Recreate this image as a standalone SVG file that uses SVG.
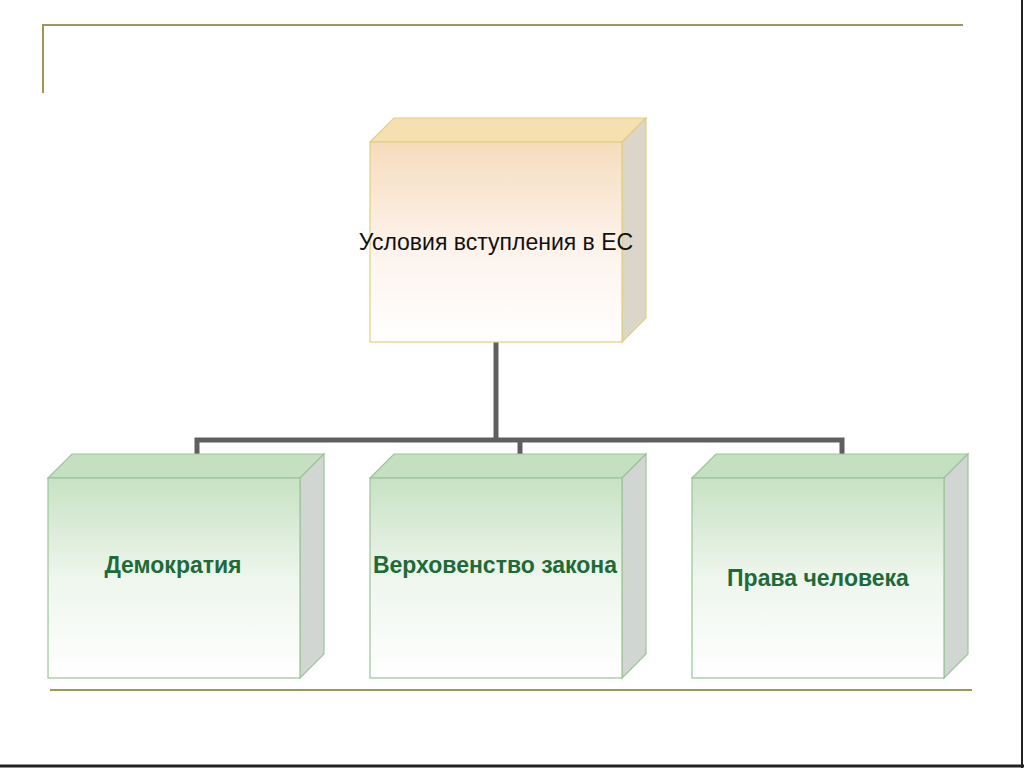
<svg xmlns="http://www.w3.org/2000/svg" width="1024" height="768" viewBox="0 0 1024 768">
<style>
.rule{stroke:#a09850;stroke-width:2;fill:none}
.conn{stroke:#5f5f5f;stroke-width:5;fill:none}
.gf{fill:url(#gg);stroke:#9cc49a;stroke-width:1.2}
.gt{fill:#c4e0c0;stroke:#9cc49a;stroke-width:1.2}
.gs{fill:#d2d6d2;stroke:#9cc49a;stroke-width:1.2}
.of{fill:url(#og);stroke:#e0cf80;stroke-width:1.2}
.ot{fill:#f7e0b0;stroke:#e0cf80;stroke-width:1.2}
.os{fill:#dcd6ca;stroke:#e0cf80;stroke-width:1.2}
.lb{font-family:"Liberation Sans",Arial,sans-serif;font-size:23px;font-weight:bold;fill:#1e6a38;text-anchor:middle}
.lt{font-family:"Liberation Sans",Arial,sans-serif;font-size:23px;fill:#111;text-anchor:middle}
</style>
<defs>
<linearGradient id="gg" x1="0" y1="0" x2="0" y2="1"><stop offset="0" stop-color="#c7e2c3"/><stop offset="0.5" stop-color="#eef6ed"/><stop offset="1" stop-color="#ffffff"/></linearGradient>
<linearGradient id="og" x1="0" y1="0" x2="0" y2="1"><stop offset="0" stop-color="#f6dcbc"/><stop offset="0.5" stop-color="#fdf2ea"/><stop offset="1" stop-color="#ffffff"/></linearGradient>
</defs>
<rect width="1024" height="768" fill="#fff"/>
<path class="rule" d="M43,93 V25 H963"/>
<line class="rule" x1="50" y1="690" x2="972" y2="690"/>
<line x1="0" y1="766" x2="1024" y2="766" stroke="#222" stroke-width="3"/>
<line x1="1022" y1="0" x2="1022" y2="768" stroke="#222" stroke-width="2"/>
<g id="connectors">
<path class="conn" d="M496,342 V440"/>
<path class="conn" d="M197,455 V440 H842 V455"/>
<path class="conn" d="M520,440 V455"/>
</g>
<g id="top">
<polygon class="ot" points="370,142 394,118 646,118 622,142"/>
<polygon class="os" points="622,142 646,118 646,318 622,342"/>
<rect class="of" x="370" y="142" width="252" height="200"/>
<text class="lt" x="496" y="250">Условия вступления в ЕС</text>
</g>
<g id="n1">
<polygon class="gt" points="48,478 72,454 324,454 300,478"/>
<polygon class="gs" points="300,478 324,454 324,654 300,678"/>
<rect class="gf" x="48" y="478" width="252" height="200"/>
<text class="lb" x="173" y="573">Демократия</text>
</g>
<g id="n2">
<polygon class="gt" points="370,478 394,454 646,454 622,478"/>
<polygon class="gs" points="622,478 646,454 646,654 622,678"/>
<rect class="gf" x="370" y="478" width="252" height="200"/>
<text class="lb" x="495" y="573">Верховенство закона</text>
</g>
<g id="n3">
<polygon class="gt" points="692,478 716,454 968,454 944,478"/>
<polygon class="gs" points="944,478 968,454 968,654 944,678"/>
<rect class="gf" x="692" y="478" width="252" height="200"/>
<text class="lb" x="818" y="586">Права человека</text>
</g>
</svg>
